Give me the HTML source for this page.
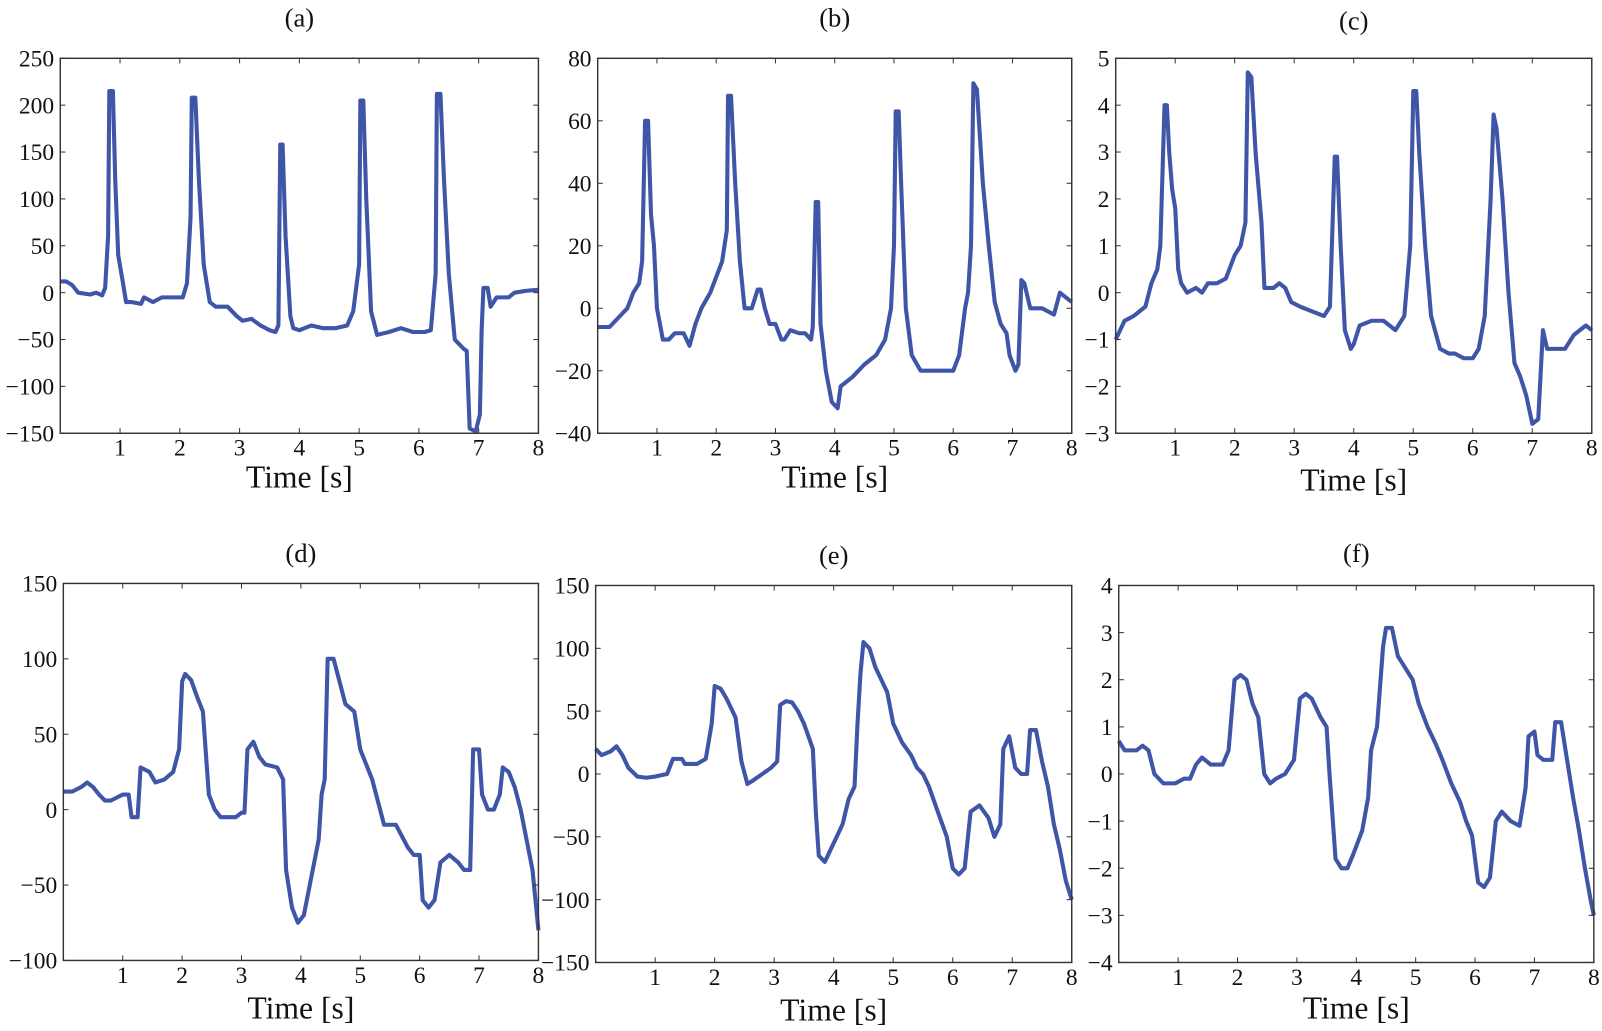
<!DOCTYPE html>
<html><head><meta charset="utf-8"><style>
html,body{margin:0;padding:0;background:#fff}
svg{display:block}
text{font-family:"Liberation Serif",serif;fill:#111}
</style></head><body>
<svg id="s" width="1602" height="1031" viewBox="0 0 1568 1009" xmlns="http://www.w3.org/2000/svg"></svg>
<script>
const P=[
{t:"(a)",x0:59,x8:527,yt:57,yb:424,vmax:250,vmin:-150,step:50,ty:17,ly:467,
d:[0,12,.1,12,.2,8,.3,0,.5,-2,.6,0,.7,-3,.75,5,.8,60,.82,215,.88,215,.92,120,.97,40,1.05,10,1.1,-10,1.2,-10,1.35,-12,1.4,-5,1.55,-10,1.7,-5,1.9,-5,2.05,-5,2.12,10,2.18,80,2.2,208,2.26,208,2.32,120,2.4,30,2.5,-10,2.6,-15,2.8,-15,2.95,-25,3.05,-30,3.2,-28,3.35,-35,3.5,-40,3.6,-42,3.65,-35,3.68,158,3.72,158,3.77,60,3.85,-25,3.9,-38,4,-40,4.2,-35,4.4,-38,4.6,-38,4.8,-35,4.9,-20,5,30,5.02,205,5.07,205,5.12,100,5.2,-20,5.3,-45,5.5,-42,5.7,-38,5.9,-42,6.1,-42,6.2,-40,6.28,20,6.3,212,6.36,212,6.42,120,6.5,20,6.6,-50,6.75,-60,6.8,-62,6.85,-145,6.95,-148,7.02,-130,7.05,-40,7.08,5,7.15,5,7.2,-15,7.3,-5,7.5,-5,7.6,0,7.8,2,8,3]},
{t:"(b)",x0:585,x8:1049,yt:57,yb:424,vmax:80,vmin:-40,step:20,ty:17,ly:467,
d:[0,-6,.2,-6,.35,-3,.5,0,.6,5,.7,8,.75,15,.8,60,.85,60,.9,30,.95,20,1,0,1.1,-10,1.2,-10,1.3,-8,1.45,-8,1.55,-12,1.65,-5,1.75,0,1.9,5,2,10,2.1,15,2.18,25,2.2,68,2.25,68,2.32,40,2.4,15,2.48,0,2.6,0,2.7,6,2.75,6,2.82,0,2.9,-5,3,-5,3.1,-10,3.15,-10,3.25,-7,3.4,-8,3.5,-8,3.6,-10,3.63,-6,3.68,34,3.72,34,3.76,-5,3.85,-20,3.95,-30,4.05,-32,4.1,-25,4.3,-22,4.5,-18,4.7,-15,4.85,-10,4.95,0,5,20,5.03,63,5.08,63,5.12,40,5.2,0,5.3,-15,5.45,-20,5.6,-20,5.8,-20,6,-20,6.1,-15,6.2,0,6.25,5,6.3,20,6.34,72,6.4,70,6.5,40,6.6,20,6.7,2,6.8,-5,6.9,-8,6.95,-15,7.05,-20,7.1,-18,7.15,9,7.2,8,7.3,0,7.5,0,7.7,-2,7.8,5,8,2]},
{t:"(c)",x0:1092,x8:1558,yt:57,yb:424,vmax:5,vmin:-3,step:1,ty:20,ly:470,
d:[0,-1,.15,-.6,.3,-.5,.4,-.4,.5,-.3,.6,.2,.7,.5,.75,1,.82,4,.86,4,.9,3,.95,2.2,1,1.8,1.05,.5,1.1,.2,1.2,0,1.35,.1,1.45,0,1.55,.2,1.7,.2,1.85,.3,2,.8,2.1,1,2.18,1.5,2.22,4.7,2.28,4.6,2.35,3,2.45,1.5,2.5,.1,2.65,.1,2.75,.2,2.85,.1,2.95,-.2,3.1,-.3,3.3,-.4,3.5,-.5,3.6,-.3,3.68,2.9,3.72,2.9,3.78,1,3.85,-.8,3.95,-1.2,4,-1.1,4.1,-.7,4.3,-.6,4.5,-.6,4.7,-.8,4.85,-.5,4.95,1,5,4.3,5.05,4.3,5.1,3,5.2,1,5.3,-.5,5.45,-1.2,5.6,-1.3,5.7,-1.3,5.85,-1.4,6,-1.4,6.1,-1.2,6.2,-.5,6.3,2,6.35,3.8,6.4,3.5,6.5,2,6.6,0,6.7,-1.5,6.8,-1.8,6.9,-2.2,7,-2.8,7.1,-2.7,7.15,-1.5,7.18,-.8,7.25,-1.2,7.4,-1.2,7.55,-1.2,7.7,-.9,7.9,-.7,8,-.8]},
{t:"(d)",x0:62,x8:527,yt:571,yb:940,vmax:150,vmin:-100,step:50,ty:541,ly:987,
d:[0,12,.15,12,.3,15,.4,18,.5,15,.6,10,.7,6,.8,6,.9,8,1,10,1.1,10,1.15,-5,1.25,-5,1.3,28,1.45,25,1.55,18,1.7,20,1.85,25,1.95,40,2,85,2.05,90,2.15,86,2.25,75,2.35,65,2.45,10,2.55,0,2.65,-5,2.8,-5,2.9,-5,3,-2,3.05,-2,3.1,40,3.2,45,3.3,35,3.4,30,3.6,28,3.7,20,3.75,-40,3.85,-65,3.95,-75,4.05,-70,4.15,-50,4.3,-20,4.35,10,4.4,20,4.45,100,4.55,100,4.65,85,4.75,70,4.9,65,5,40,5.2,20,5.3,5,5.4,-10,5.6,-10,5.8,-25,5.9,-30,6,-30,6.05,-60,6.15,-65,6.25,-60,6.35,-35,6.5,-30,6.65,-35,6.75,-40,6.85,-40,6.9,40,7,40,7.05,10,7.15,0,7.25,0,7.35,10,7.4,28,7.5,25,7.6,15,7.7,0,7.8,-20,7.9,-40,8,-80]},
{t:"(e)",x0:583,x8:1049,yt:573,yb:942,vmax:150,vmin:-150,step:50,ty:543,ly:989,
d:[0,20,.1,15,.25,18,.35,22,.45,15,.55,5,.7,-2,.85,-3,1,-2,1.2,0,1.3,12,1.45,12,1.5,8,1.7,8,1.85,12,1.95,40,2,70,2.1,68,2.2,60,2.35,45,2.45,10,2.55,-8,2.65,-5,2.8,0,2.95,5,3.05,10,3.1,55,3.2,58,3.3,57,3.4,50,3.5,40,3.65,20,3.7,-30,3.75,-65,3.85,-70,3.95,-60,4.05,-50,4.15,-40,4.25,-20,4.35,-10,4.4,40,4.45,80,4.5,105,4.6,100,4.7,85,4.8,75,4.9,65,5,40,5.15,25,5.3,15,5.4,5,5.5,0,5.6,-10,5.75,-30,5.9,-50,6,-75,6.1,-80,6.2,-75,6.3,-30,6.45,-25,6.6,-35,6.7,-50,6.8,-40,6.85,20,6.95,30,7.05,5,7.15,0,7.25,0,7.3,35,7.4,35,7.5,10,7.6,-10,7.7,-40,7.8,-60,7.9,-85,8,-100]},
{t:"(f)",x0:1095,x8:1560,yt:573,yb:942,vmax:4,vmin:-4,step:1,ty:541,ly:987,
d:[0,.7,.1,.5,.3,.5,.4,.6,.5,.5,.6,0,.75,-.2,.95,-.2,1.1,-.1,1.2,-.1,1.3,.2,1.4,.35,1.55,.2,1.75,.2,1.85,.5,1.95,2,2.05,2.1,2.15,2,2.25,1.5,2.35,1.2,2.45,0,2.55,-.2,2.65,-.1,2.8,0,2.95,.3,3.05,1.6,3.15,1.7,3.25,1.6,3.4,1.2,3.5,1,3.55,0,3.65,-1.8,3.75,-2,3.85,-2,3.95,-1.7,4.1,-1.2,4.2,-.5,4.25,.5,4.35,1,4.45,2.7,4.5,3.1,4.6,3.1,4.7,2.5,4.85,2.2,4.95,2,5.05,1.5,5.2,1,5.35,.6,5.45,.3,5.6,-.2,5.75,-.6,5.85,-1,5.95,-1.3,6.05,-2.3,6.15,-2.4,6.25,-2.2,6.35,-1,6.45,-.8,6.6,-1,6.75,-1.1,6.85,-.3,6.9,.8,7,.9,7.05,.4,7.15,.3,7.3,.3,7.35,1.1,7.45,1.1,7.55,.3,7.65,-.5,7.75,-1.2,7.85,-2,7.95,-2.7,8,-3]}
];
let h="";
for(const p of P){
 const X=t=>p.x0+(p.x8-p.x0)*t/8, Y=v=>p.yt+(p.vmax-v)/(p.vmax-p.vmin)*(p.yb-p.yt);
 let pts=[];for(let i=0;i<p.d.length;i+=2)pts.push(X(p.d[i]).toFixed(1)+","+Y(p.d[i+1]).toFixed(1));
 h+=`<polyline points="${pts.join(" ")}" fill="none" stroke="#3f56a8" stroke-width="4" stroke-linejoin="round"/>`;
 h+=`<rect x="${p.x0}" y="${p.yt}" width="${p.x8-p.x0}" height="${p.yb-p.yt}" fill="none" stroke="#333" stroke-width="1.4"/>`;
 for(let v=p.vmin;v<=p.vmax+1e-9;v+=p.step){const y=Y(v);
  h+=`<line x1="${p.x0}" x2="${p.x0+5}" y1="${y}" y2="${y}" stroke="#333"/><line x1="${p.x8}" x2="${p.x8-5}" y1="${y}" y2="${y}" stroke="#333"/>`;
  h+=`<text x="${p.x0-6}" y="${y+8}" font-size="23" text-anchor="end">${v<0?"\u2212"+(-v):v}</text>`;}
 for(let t=1;t<=8;t++){const x=X(t);
  h+=`<line x1="${x}" x2="${x}" y1="${p.yb}" y2="${p.yb-5}" stroke="#333"/><line x1="${x}" x2="${x}" y1="${p.yt}" y2="${p.yt+5}" stroke="#333"/>`;
  h+=`<text x="${x}" y="${p.yb+22}" font-size="23" text-anchor="middle">${t}</text>`;}
 const cx=(p.x0+p.x8)/2;
 h+=`<text x="${cx}" y="${p.ty+9}" font-size="26" text-anchor="middle">${p.t}</text>`;
 h+=`<text x="${cx}" y="${p.ly+10}" font-size="31" text-anchor="middle">Time [s]</text>`;
}
document.getElementById("s").innerHTML=h;
</script>
</body></html>
